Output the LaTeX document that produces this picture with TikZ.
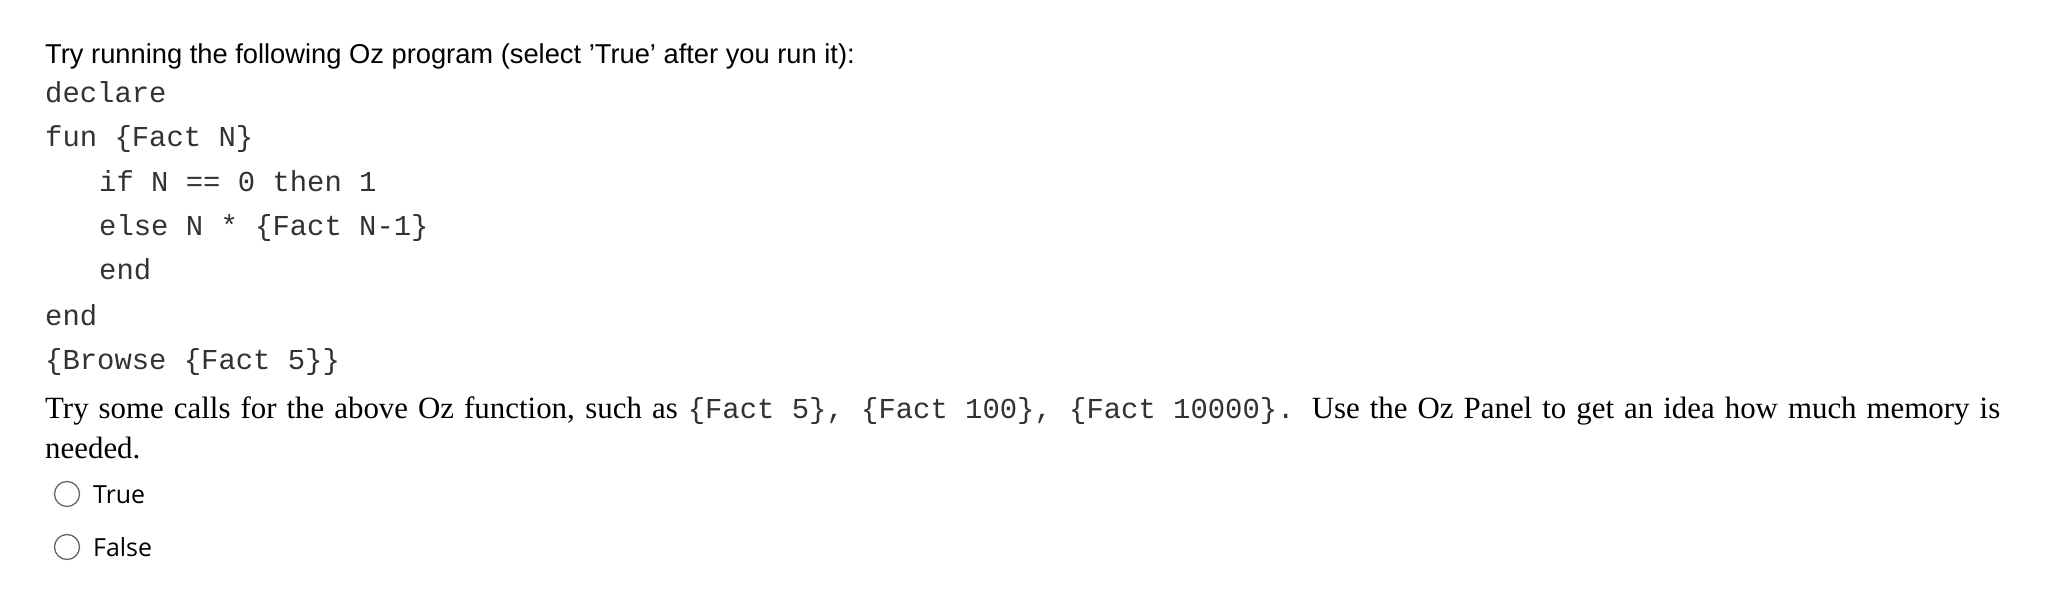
\documentclass[tikz,border=0pt]{standalone}
\usepackage{fontspec}
\setmainfont{Liberation Serif}
\setsansfont{Liberation Sans}
\setmonofont{Liberation Mono}
\newfontfamily\optfont{Open Sans}
\definecolor{codegray}{RGB}{50,50,50}
\begin{document}
\begin{tikzpicture}[x=1bp,y=-1bp,
  sans/.style={anchor=base west,inner sep=0,font=\sffamily\fontsize{27.4}{30}\selectfont},
  code/.style={anchor=base west,inner sep=0,font=\ttfamily\fontsize{29}{30}\selectfont,text=codegray},
  opt/.style={anchor=base west,inner sep=0,font=\optfont\fontsize{25}{30}\selectfont},
  radio/.style={circle,draw=gray!80!black,line width=1.3bp,minimum size=25bp,inner sep=0}]
\useasboundingbox (0,0) rectangle (2064,608);
\node[sans] (t1) at (45,64) {Try running the following Oz program (select \char39True\char39{} after you run it):};
\node[code] (c1) at (45,103) {declare};
\node[code] (c2) at (45,147) {fun \{Fact N\}};
\node[code] (c3) at (99,192) {if N == 0 then 1};
\node[code] (c4) at (99,236) {else N * \{Fact N-1\}};
\node[code] (c5) at (99,280) {end};
\node[code] (c6) at (45,325) {end};
\node[code] (c7) at (45,369) {\{Browse \{Fact 5\}\}};
\node[anchor=base west,inner sep=0,text width=1955bp,align=justify,
  font=\fontsize{31}{41}\selectfont] (p) at (45,418)
  {Try some calls for the above Oz function, such as {\ttfamily\fontsize{29}{30}\selectfont\color{codegray}\{Fact 5\}, \{Fact 100\}, \{Fact 10000\}.} Use the Oz Panel to get an idea how much memory is needed.};
\node[radio] (r1) at (67,494) {};
\node[opt] (o1) at (93,503) {True};
\node[radio] (r2) at (67,547) {};
\node[opt] (o2) at (93,556) {False};
\end{tikzpicture}
\end{document}
